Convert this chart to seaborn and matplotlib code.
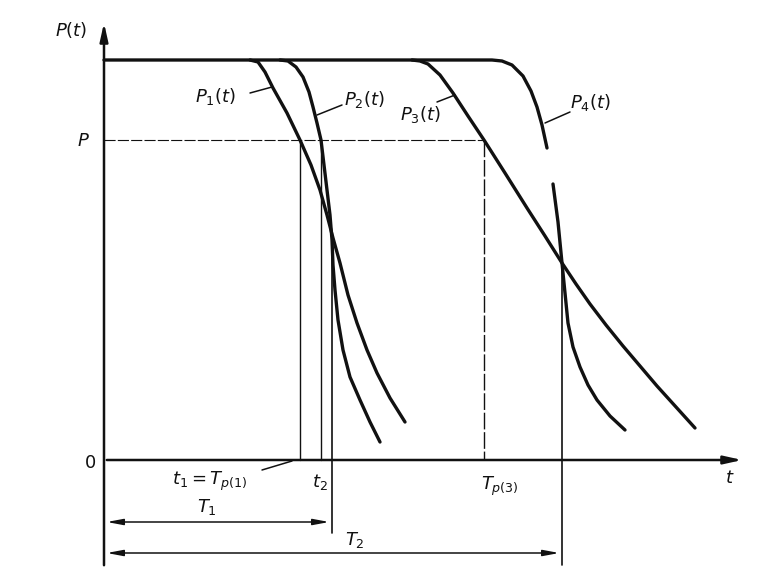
import numpy as np
import matplotlib
matplotlib.use('Agg')
import matplotlib.pyplot as plt
import seaborn as sns

# curves (t in arbitrary units, P from 0 to 1)
p1_t = [14.6, 15.4, 16.1, 16.9, 18.3, 19.6, 20.7, 21.6, 22.3, 22.9, 23.6, 24.4, 25.3, 26.3, 27.3, 28.6, 30.1]
p1_p = [1.0, 0.995, 0.97, 0.93, 0.8675, 0.80, 0.7375, 0.675, 0.6125, 0.555, 0.4925, 0.4125, 0.3425, 0.275,
        0.2175, 0.155, 0.095]

p2_t = [17.6, 18.4, 19.2, 19.9, 20.5, 20.9, 21.3, 21.7, 22.0, 22.3, 22.6, 22.8, 22.9, 23.1, 23.4, 23.9,
        24.6, 25.6, 26.6, 27.6]
p2_p = [1.0, 0.9975, 0.9825, 0.9575, 0.92, 0.8825, 0.8425, 0.80, 0.7375, 0.675, 0.6125, 0.55, 0.4875,
        0.425, 0.35, 0.275, 0.2075, 0.15, 0.095, 0.045]

p3_t = [30.8, 31.6, 32.4, 33.6, 34.9, 36.4, 38.0, 40.1, 42.3, 44.1, 45.8, 47.2, 48.6, 50.2, 51.9, 53.6,
        55.3, 57.2, 59.1]
p3_p = [1.0, 0.9975, 0.99, 0.9625, 0.9175, 0.86, 0.80, 0.7175, 0.63, 0.56, 0.4925, 0.44, 0.39, 0.3375,
        0.285, 0.235, 0.185, 0.1325, 0.08]

# P4 is drawn in two pieces (gap in the original); first piece carries the flat top P = 1
p4a_t = [0, 38.8, 39.8, 40.8, 41.9, 42.7, 43.3, 43.8, 44.3]
p4a_p = [1.0, 1.0, 0.9975, 0.9875, 0.96, 0.9225, 0.8825, 0.8375, 0.78]
p4b_t = [44.9, 45.4, 45.8, 46.1, 46.4, 46.9, 47.6, 48.4, 49.3, 50.6, 52.1]
p4b_p = [0.69, 0.595, 0.4925, 0.4175, 0.3425, 0.2825, 0.2325, 0.1875, 0.15, 0.11, 0.075]

p_level = 0.8
t1 = 19.6      # t1 = Tp(1)
t2 = 21.7
T1 = 22.8
Tp3 = 38.0
T2 = 45.8

sns.set_theme(style='white')
plt.rcParams['mathtext.fontset'] = 'dejavusans'

fig = plt.figure(figsize=(7.68, 5.86), dpi=100, facecolor='white')
ax = fig.add_axes([0, 0, 1, 1])
ax.set_xlim(-10.4, 66.4)
ax.set_ylim(-0.315, 1.15)
ax.axis('off')

ink = '#111111'

# curves
for tt, pp in [(p4a_t, p4a_p), (p1_t, p1_p), (p2_t, p2_p), (p3_t, p3_p), (p4b_t, p4b_p)]:
    sns.lineplot(x=tt, y=pp, sort=False, estimator=None, color=ink, lw=2.4, ax=ax)

# axes with arrows
ax.annotate('', xy=(0, 1.10), xytext=(0, -0.27),
            arrowprops=dict(arrowstyle='-|>,head_length=0.9,head_width=0.2', color=ink, lw=1.8))
ax.annotate('', xy=(64.1, 0), xytext=(0, 0),
            arrowprops=dict(arrowstyle='-|>,head_length=0.9,head_width=0.2', color=ink, lw=1.8))

# P level and guide lines
ax.plot([0, Tp3], [p_level, p_level], color=ink, lw=0.8, dashes=(10, 2))
ax.plot([t1, t1], [p_level, 0], color=ink, lw=1.0)
ax.plot([t2, t2], [p_level, 0], color=ink, lw=1.0)
ax.plot([Tp3, Tp3], [p_level, 0], color=ink, lw=1.0, dashes=(12, 2))
ax.plot([T1, T1], [0.55, -0.1825], color=ink, lw=1.2)
ax.plot([T2, T2], [0.4925, -0.2625], color=ink, lw=1.2)

# dimension arrows
ax.annotate('', xy=(T1, -0.155), xytext=(0, -0.155),
            arrowprops=dict(arrowstyle='<|-|>,head_length=0.8,head_width=0.15', color=ink, lw=1.1))
ax.annotate('', xy=(T2, -0.2325), xytext=(0, -0.2325),
            arrowprops=dict(arrowstyle='<|-|>,head_length=0.8,head_width=0.15', color=ink, lw=1.1))

# leader lines
leaders = [((14.6, 0.9175), (16.8, 0.9325)),
           ((21.3, 0.8625), (23.8, 0.8875)),
           ((33.3, 0.895), (35.1, 0.9125)),
           ((44.1, 0.8425), (46.6, 0.87)),
           ((15.8, -0.025), (18.8, -0.0025))]
for a, b in leaders:
    ax.plot([a[0], b[0]], [a[1], b[1]], color=ink, lw=1.1)

fs = 13
def label(x, y, s, **kw):
    ax.text(x, y, s, fontsize=fs, color=ink, ha='center', va='center', **kw)

label(-3.3, 1.075, r'$P(t)$')
label(-2.1, 0.797, r'$P$')
label(-1.4, -0.008, r'$0$')
label(11.1, 0.9075, r'$P_1(t)$')
label(26.0, 0.90, r'$P_2(t)$')
label(31.6, 0.8625, r'$P_3(t)$')
label(48.6, 0.8925, r'$P_4(t)$')
label(10.6, -0.0525, r'$t_1 = T_{p(1)}$')
label(21.6, -0.055, r'$t_2$')
label(10.3, -0.118, r'$T_1$')
label(25.1, -0.20, r'$T_2$')
label(39.6, -0.065, r'$T_{p(3)}$')
label(62.6, -0.045, r'$t$')

fig.savefig('out.png', dpi=100, facecolor='white')
